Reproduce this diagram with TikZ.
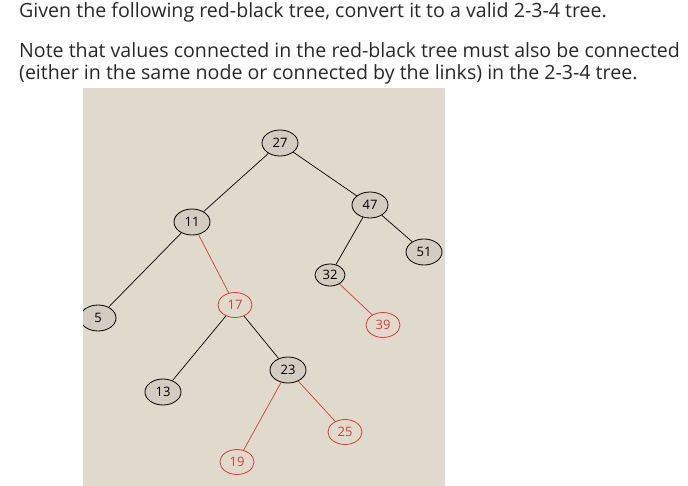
\documentclass[tikz,border=0pt]{standalone}
\usepackage{fontspec}
\setmainfont{Open Sans}
\usetikzlibrary{shapes.geometric}
\definecolor{paper}{RGB}{224,218,204}
\definecolor{txt}{RGB}{40,40,40}
\definecolor{pen}{RGB}{210,60,60}
\tikzset{
  bk/.style={ellipse,draw=black,fill=paper!85!gray,line width=0.8pt,minimum width=36pt,minimum height=26pt,inner sep=1pt,font=\fontsize{13}{15}\selectfont},
  rd/.style={ellipse,draw=pen,fill=paper,text=pen,line width=0.8pt,minimum width=34pt,minimum height=25pt,inner sep=1pt,font=\fontsize{13}{15}\selectfont},
  be/.style={draw=black,line width=0.7pt},
  re/.style={draw=pen,line width=0.7pt},
  lbl/.style={anchor=west,text=txt,font=\fontsize{19.6}{22}\selectfont,inner sep=0pt}
}
\begin{document}
\begin{tikzpicture}[x=1pt,y=-1pt]
\useasboundingbox (0,0) rectangle (688,486);
\fill[white] (0,0) rectangle (688,486);
\node[lbl] (t1) at (19,12) {Given the following red-black tree, convert it to a valid 2-3-4 tree.};
\node[lbl] (t2) at (19,50) {Note that values connected in the red-black tree must also be connected};
\node[lbl] (t3) at (19,74) {(either in the same node or connected by the links) in the 2-3-4 tree.};
\begin{scope}
\clip (83,88) rectangle (445,486);
\fill[paper] (83,88) rectangle (445,486);
\node[bk] (n27) at (280,143) {27};
\node[bk] (n47) at (370,205) {47};
\node[bk] (n51) at (424,252) {51};
\node[bk] (n11) at (192,222) {11};
\node[bk,minimum width=30pt,minimum height=22pt] (n32) at (330,275) {32};
\node[rd] (n39) at (383,325) {39};
\node[bk] (n5) at (98,318) {5};
\node[rd] (n17) at (235,305) {17};
\node[bk] (n23) at (288,370) {23};
\node[bk] (n13) at (163,392) {13};
\node[rd] (n25) at (345,432) {25};
\node[rd] (n19) at (237,462) {19};
\draw[be] (n27) -- (n11);
\draw[be] (n27) -- (n47);
\draw[be] (n47) -- (n32);
\draw[be] (n47) -- (n51);
\draw[re] (n32) -- (n39);
\draw[be] (n11) -- (n5);
\draw[re] (n11) -- (n17);
\draw[be] (n17) -- (n13);
\draw[be] (n17) -- (n23);
\draw[re] (n23) -- (n19);
\draw[re] (n23) -- (n25);
\end{scope}
\end{tikzpicture}
\end{document}
